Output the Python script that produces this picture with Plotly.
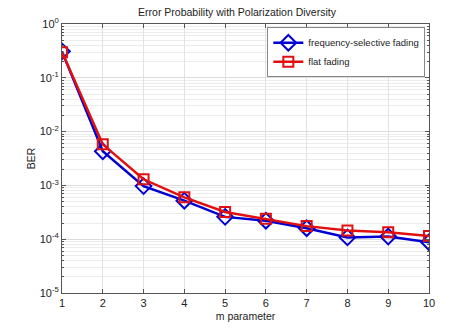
import plotly.graph_objects as go

m = [1, 2, 3, 4, 5, 6, 7, 8, 9, 10]
ber_fs = [0.31, 4.3e-3, 0.97e-3, 5.2e-4, 2.6e-4, 2.2e-4, 1.6e-4, 1.08e-4, 1.12e-4, 8.8e-5]
ber_flat = [0.30, 5.8e-3, 1.3e-3, 6.0e-4, 3.2e-4, 2.4e-4, 1.75e-4, 1.45e-4, 1.35e-4, 1.15e-4]
y_tickvals = [1e-5, 1e-4, 1e-3, 1e-2, 1e-1, 1e0]
y_ticktext = ["10<sup>-5</sup>", "10<sup>-4</sup>", "10<sup>-3</sup>", "10<sup>-2</sup>", "10<sup>-1</sup>", "10<sup>0</sup>"]

fig = go.Figure()
fig.add_trace(go.Scatter(x=m, y=ber_fs, mode="lines+markers", name="frequency-selective fading",
                         line=dict(color="#0000d0", width=2.5),
                         marker=dict(symbol="diamond-open", size=12, color="#0000d0", line=dict(width=2))))
fig.add_trace(go.Scatter(x=m, y=ber_flat, mode="lines+markers", name="flat fading",
                         line=dict(color="#e01010", width=2.5),
                         marker=dict(symbol="square-open", size=10, color="#e01010", line=dict(width=2))))

font = "Liberation Sans, Arial, sans-serif"
fig.update_layout(
    width=474, height=333,
    margin=dict(l=62, r=45, t=24, b=37),
    paper_bgcolor="white", plot_bgcolor="white",
    font=dict(family=font, size=11, color="#222"),
    title=dict(text="Error Probability with Polarization Diversity", x=0.5, xanchor="center",
               y=0.975, yanchor="top", font=dict(size=10.5, family=font, color="#222")),
    showlegend=True,
    legend=dict(x=0.99, y=0.988, xanchor="right", yanchor="top", bgcolor="white",
                bordercolor="#888", borderwidth=1, font=dict(size=9.5, family=font, color="#222"),
                tracegroupgap=0, itemwidth=30),
)
fig.update_xaxes(range=[1, 10], tickvals=m,
                 title=dict(text="m parameter", standoff=4, font=dict(size=10.5, family=font, color="#222")),
                 tickfont=dict(size=11),
                 showgrid=True, gridcolor="#e2e2e2", gridwidth=1, zeroline=False,
                 showline=True, linecolor="#555", linewidth=1, mirror="ticks",
                 ticks="inside", ticklen=4, tickcolor="#555")
fig.update_yaxes(type="log", range=[-5, 0], tickvals=y_tickvals, ticktext=y_ticktext,
                 title=dict(text="BER", standoff=2, font=dict(size=10.5, family=font, color="#222")),
                 tickfont=dict(size=11),
                 showgrid=True, gridcolor="#dcdcdc", gridwidth=1, zeroline=False,
                 showline=True, linecolor="#555", linewidth=1, mirror="ticks",
                 ticks="inside", ticklen=4, tickcolor="#555",
                 minor=dict(dtick="D1", showgrid=True, gridcolor="#ececec", ticks="inside", ticklen=2, tickcolor="#555"))

fig.write_html("out.html")
